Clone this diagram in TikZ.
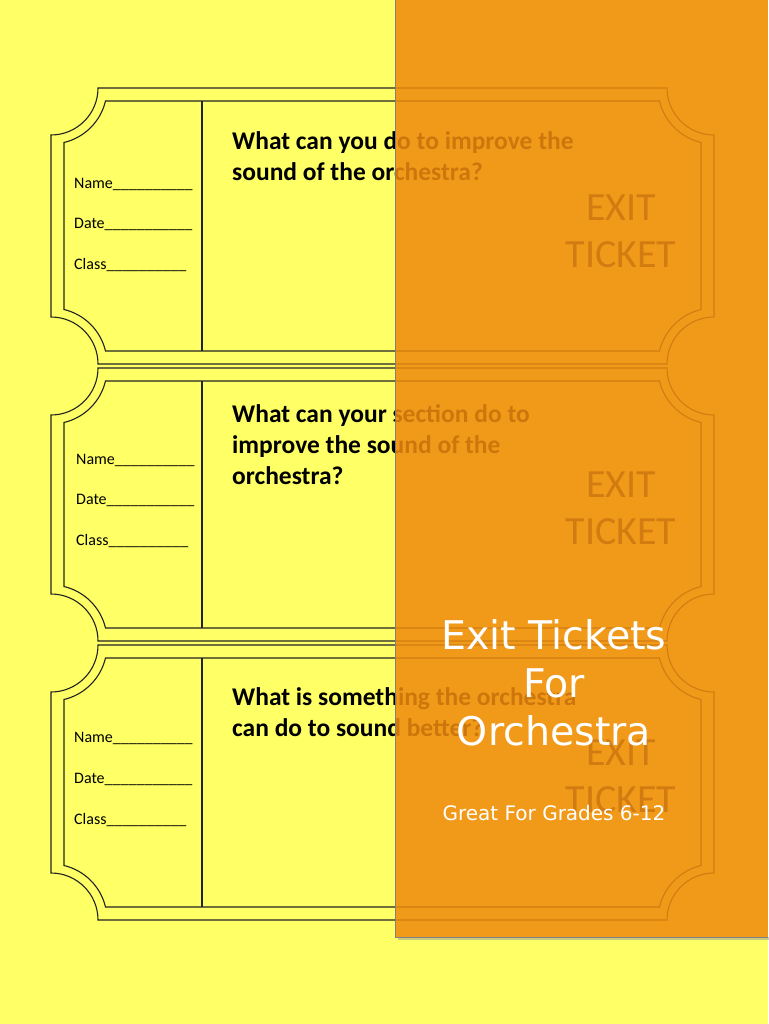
\documentclass[tikz,border=0pt]{standalone}
\usepackage{fontspec}
\setmainfont{Carlito}
\newfontfamily\dejavu{DejaVu Sans}
\definecolor{bgyel}{HTML}{FFFF66}
\definecolor{ovor}{HTML}{EF8A0E}
\definecolor{tline}{HTML}{222222}
\newcommand\tkt[3]{% top, bottom, label x
  \draw[tkline] (98,#1) -- (667,#1) arc[start angle=180,end angle=90,radius=47]
    -- (714,#2-47) arc[start angle=270,end angle=180,radius=47]
    -- (98,#2) arc[start angle=0,end angle=-90,radius=47]
    -- (51,#1+47) arc[start angle=90,end angle=0,radius=47] -- cycle;
  \draw[tkline] (105.5,#1+13) -- (659.5,#1+13) arc[start angle=166.6,end angle=103.4,radius=56]
    -- (701,#2-54.5) arc[start angle=256.6,end angle=193.4,radius=56]
    -- (105.5,#2-13) arc[start angle=-13.4,end angle=-76.6,radius=56]
    -- (64,#1+54.5) arc[start angle=76.6,end angle=13.4,radius=56] -- cycle;
  \draw[tkline] (202,#1+13) -- (202,#2-13);
}
\begin{document}
\begin{tikzpicture}[x=1pt,y=-1pt,
  tkline/.style={draw=tline,line width=1.1pt},
  lbl/.style={anchor=west,inner sep=0,font=\fontsize{16}{18}\selectfont},
  qst/.style={anchor=north west,inner sep=0,align=left,font=\bfseries\fontsize{25.5}{31}\selectfont},
  exitt/.style={align=center,inner sep=0,text=black!85,font=\fontsize{40}{47}\selectfont}]
\useasboundingbox (0,0) rectangle (768,1024);
\fill[bgyel] (0,0) rectangle (768,1024);
\tkt{88}{364}{74}
\tkt{368}{641}{76}
\tkt{645}{920}{74}
\node[lbl] (n1) at (74,184) {Name\_\_\_\_\_\_\_\_\_\_};
\node[lbl] (d1) at (74,224) {Date\_\_\_\_\_\_\_\_\_\_\_};
\node[lbl] (c1) at (74,265) {Class\_\_\_\_\_\_\_\_\_\_};
\node[lbl] (n2) at (76,460) {Name\_\_\_\_\_\_\_\_\_\_};
\node[lbl] (d2) at (76,500) {Date\_\_\_\_\_\_\_\_\_\_\_};
\node[lbl] (c2) at (76,541) {Class\_\_\_\_\_\_\_\_\_\_};
\node[lbl] (n3) at (74,738) {Name\_\_\_\_\_\_\_\_\_\_};
\node[lbl] (d3) at (74,779) {Date\_\_\_\_\_\_\_\_\_\_\_};
\node[lbl] (c3) at (74,820) {Class\_\_\_\_\_\_\_\_\_\_};
\node[qst] (q1) at (232,131) {What can you do to improve the\\sound of the orchestra?};
\node[qst] (q2) at (232,404) {What can your section do to\\improve the sound of the\\orchestra?};
\node[qst] (q3) at (232,687) {What is something the orchestra\\can do to sound better?};
\node[exitt] (e1) at (621,231) {EXIT\\TICKET};
\node[exitt] (e2) at (621,508) {EXIT\\TICKET};
\node[exitt] (e3) at (621,776) {EXIT\\TICKET};
\fill[black!40,opacity=0.5] (398,937) rectangle (770,940);
\fill[ovor,opacity=0.86] (395,0) rectangle (768,937);
\draw[gray,line width=0.8pt] (395,0) -- (395,937) -- (768,937);
\node[text=white,align=center,inner sep=0,font=\dejavu\fontsize{39.5}{48}\selectfont] (title) at (554,683) {Exit Tickets\\For\\Orchestra};
\node[text=white,inner sep=0,font=\dejavu\fontsize{20}{22}\selectfont] (sub) at (554,813) {Great For Grades 6-12};
\end{tikzpicture}
\end{document}
